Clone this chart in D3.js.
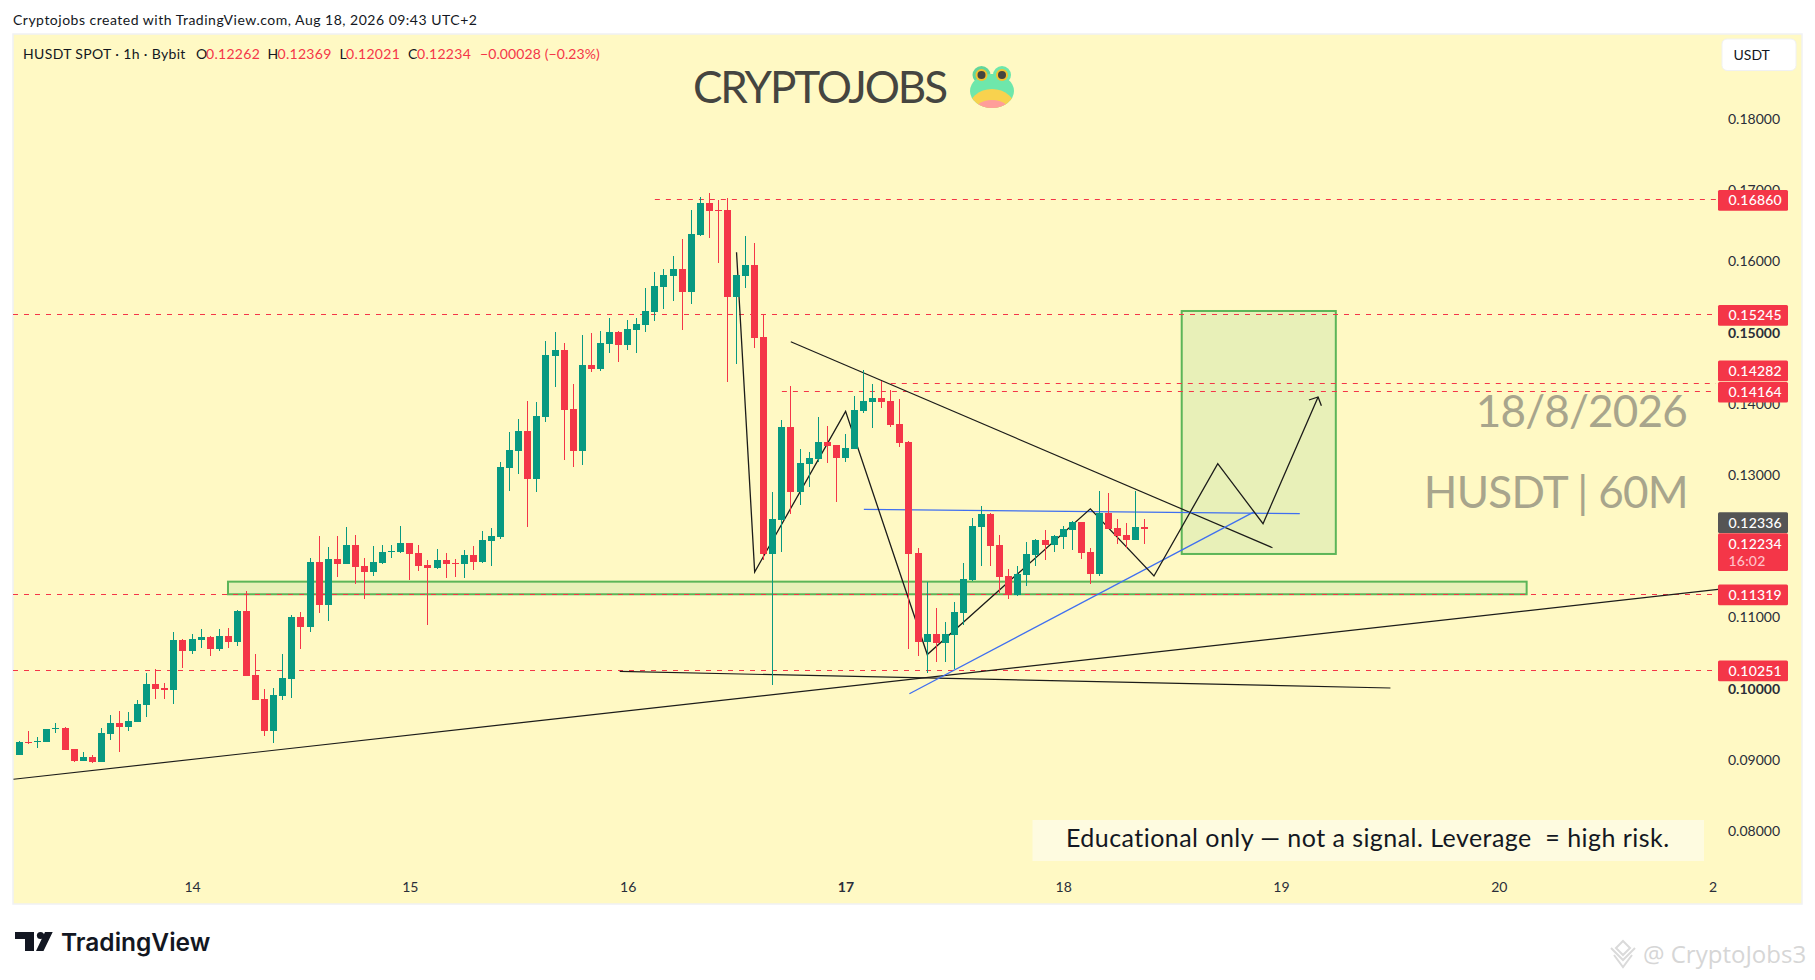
<!DOCTYPE html>
<html>
<head>
<meta charset="utf-8">
<script src="https://cdn.jsdelivr.net/npm/d3@7"></script>
<style>
  body { margin: 0; background: #fff; }
  svg { display: block; }
  text { font-family: Lato, "Noto Sans", sans-serif; }
</style>
</head>
<body>
<svg id="chart" width="1815" height="980"></svg>
<script>
// candles, 1h bars
const opens = [.09059,.09242,.09246,.09242,.09424,.09438,.09143,.08975,.09031,.08961,
.09354,.09508,.09452,.09522,.09761,.10056,.10000,.09972,.10674,.10519,
.10674,.10716,.10548,.10730,.10646,.11081,.10182,.09845,.09396,.09888,
.10126,.10997,.10857,.11769,.11165,.11811,.11741,.12008,.11713,.11629,
.11755,.11910,.11910,.12036,.11896,.11727,.11685,.11798,.11755,.11741,
.11868,.11770,.12064,.12121,.13090,.13328,.13609,.12935,.13806,.14662,
.14747,.13918,.13328,.14536,.14480,.14831,.14999,.14817,.15028,.15098,
.15280,.15631,.15786,.15884,.15561,.16362,.16811,.16713,.16713,.15491,
.15786,.15940,.14929,.11882,.12361,.13667,.12753,.13144,.13217,.13454,
.13415,.13231,.13357,.13889,.14015,.14073,.14029,.13705,.13459,.11892,
.10644,.10760,.10634,.10750,.11055,.11515,.12259,.12443,.12008,.11573,
.11311,.11587,.11868,.12080,.12008,.12124,.12221,.12332,.11911,.11602,
.12458,.12250,.12148,.12080,.12262];
const highs = [.09256,.09396,.09312,.09424,.09508,.09452,.09143,.09101,.09059,.09438,
.09621,.09677,.09663,.09831,.10211,.10267,.10070,.10786,.10688,.10758,
.10828,.10730,.10828,.10842,.11095,.11362,.10477,.09986,.10000,.10477,
.11025,.11067,.11825,.12134,.11980,.12134,.12261,.12148,.11825,.11994,
.12008,.12008,.12275,.12036,.12008,.11798,.11952,.11896,.11812,.11938,
.11994,.12205,.12247,.13174,.13595,.13778,.14030,.14016,.14873,.14999,
.14845,.14269,.14957,.14985,.15013,.15196,.15013,.15168,.15196,.15617,
.15842,.15884,.16067,.16305,.16713,.16895,.16951,.16853,.16881,.15800,
.16348,.16249,.15238,.12753,.13763,.14242,.13357,.13314,.13807,.13681,
.13415,.13565,.14102,.14464,.14271,.14305,.14184,.14058,.13473,.11964,
.11490,.11123,.10929,.11210,.11756,.12390,.12554,.12458,.12153,.11669,
.11718,.12056,.12095,.12225,.12153,.12274,.12346,.12332,.11964,.12767,
.12738,.12371,.12317,.12767,.12369];
const lows = [.09059,.09214,.09157,.09242,.09373,.09129,.08961,.08975,.08947,.08961,
.09270,.09101,.09396,.09522,.09593,.09845,.09845,.09775,.10281,.10477,
.10562,.10449,.10519,.10562,.10590,.10168,.09831,.09326,.09227,.09831,
.09859,.10548,.10786,.11053,.10941,.11559,.11741,.11460,.11250,.11573,
.11741,.11825,.11896,.11517,.11643,.10885,.11671,.11545,.11559,.11545,
.11657,.11755,.11713,.12093,.12767,.13005,.12261,.12753,.13736,.14227,
.13202,.13104,.13132,.14438,.14452,.14705,.14578,.14747,.14705,.14999,
.15154,.15322,.15435,.15028,.15393,.16348,.16319,.15968,.14297,.14550,
.15617,.14775,.11798,.10044,.11911,.12443,.12564,.12825,.13173,.13159,
.12608,.13168,.13357,.13855,.13652,.13933,.13667,.13386,.10547,.10451,
.10209,.10364,.10364,.10267,.10886,.11500,.11708,.11708,.11331,.11249,
.11292,.11428,.11718,.11795,.11911,.11950,.11940,.11810,.11461,.11573,
.12235,.12022,.11959,.12080,.12021];
const closes = [.09242,.09228,.09260,.09424,.09438,.09129,.08975,.09031,.08961,.09368,
.09508,.09452,.09536,.09775,.10056,.09986,.09972,.10674,.10519,.10688,
.10716,.10548,.10730,.10646,.11081,.10168,.09831,.09396,.09902,.10140,
.10997,.10857,.11769,.11165,.11811,.11741,.12008,.11699,.11629,.11769,
.11910,.11924,.12036,.11882,.11713,.11685,.11798,.11741,.11741,.11868,
.11770,.12079,.12135,.13104,.13342,.13609,.12935,.13820,.14676,.14747,
.13904,.13328,.14536,.14480,.14845,.14999,.14817,.15042,.15112,.15294,
.15645,.15800,.15884,.15561,.16376,.16811,.16699,.16699,.15491,.15800,
.15940,.14915,.11882,.12375,.13667,.12753,.13159,.13231,.13454,.13401,
.13231,.13372,.13904,.14029,.14073,.14015,.13696,.13439,.11882,.10644,
.10760,.10634,.10760,.11070,.11529,.12274,.12443,.11993,.11558,.11311,
.11602,.11882,.12080,.12008,.12138,.12235,.12332,.11897,.11602,.12458,
.12235,.12134,.12080,.12259,.12234];

// axes
const priceTicks = [.08,.09,.10,.11,.13,.14,.15,.16,.17,.18];
const boldTicks = [.10,.15];
const dayBars = [19,43,67,91,115,139,163,187];
const dayLabels = ["14","15","16","17","18","19","20","2"];

// horizontal levels, dashed, first bar is where the line starts
const levelPrices = [.16860,.15245,.14282,.14164,.11319,.10251];
const levelStartBars = [70,-1,96,84,-1,-1];
const levelWidths = [1.2,1.2,1.2,1,1.2,1.2];
const levelLabelShift = [0,0,-13,0,0,0];

// drawings as [bar, price] anchors
const zigzagBars = [79,81,91.02,100.02,117.99,125,132.03,137.02,143.09];
const zigzagPrices = [.16119,.11629,.13884,.10470,.12515,.11573,.13150,.12307,.14087];
const arrowBars = [142.08,143.09,143.45];
const arrowPrices = [.14044,.14087,.13964];
const trendBars = [[-0.68,187.3],[66.13,151.06],[84.98,138.06]];
const trendPrices = [[.08718,.11386],[.10233,.10000],[.14862,.11970]];
const blueBars = [[93.03,141.07],[98.05,136.03]];
const bluePrices = [[.12507,.12448],[.09919,.12472]];
const boxBars = [[128.06,145.04],[22.96,166.07]];
const boxPrices = [[.15294,.11882],[.11493,.11316]];

const svg = d3.select("#chart");
const paneLeft = 13, paneRight = 1718, paneTop = 34, paneBottom = 904, frameRight = 1802;
const green = "#089981", red = "#F43648";

const x = d3.scaleLinear().domain([0,124]).range([19.64,1144.88]);
const y = d3.scaleLinear().domain([.08,.18]).range([830.4,118.3]);

// background and frame
svg.append("rect").attr("x",paneLeft).attr("y",paneTop)
  .attr("width",frameRight-paneLeft).attr("height",paneBottom-paneTop)
  .attr("fill","#FFF9C4").attr("stroke","#F0F1F3").attr("stroke-width",1.5);

svg.append("clipPath").attr("id","pane").append("rect")
  .attr("x",paneLeft).attr("y",paneTop).attr("width",paneRight-paneLeft).attr("height",paneBottom-paneTop);
const pane = svg.append("g").attr("clip-path","url(#pane)");

// green zones
boxBars.forEach((b,i) => {
  pane.append("rect")
    .attr("x",x(b[0])).attr("y",y(boxPrices[i][0]))
    .attr("width",x(b[1])-x(b[0])).attr("height",y(boxPrices[i][1])-y(boxPrices[i][0]))
    .attr("fill","#E8F0B8").attr("stroke","#5CB558").attr("stroke-width",2);
});

// dashed levels
levelPrices.forEach((p,i) => {
  pane.append("line")
    .attr("x1",levelStartBars[i] < 0 ? paneLeft : x(levelStartBars[i]))
    .attr("x2",paneRight-2)
    .attr("y1",Math.round(y(p))+.5).attr("y2",Math.round(y(p))+.5)
    .attr("stroke",red).attr("stroke-width",levelWidths[i])
    .attr("stroke-dasharray","5,6");
});

// trend lines and the zigzag
const line = d3.line().x(d => x(d[0])).y(d => y(d[1]));
trendBars.forEach((b,i) => {
  pane.append("path").attr("d",line(d3.zip(b,trendPrices[i])))
    .attr("fill","none").attr("stroke","#1c1c1a").attr("stroke-width",1.2);
});
blueBars.forEach((b,i) => {
  pane.append("path").attr("d",line(d3.zip(b,bluePrices[i])))
    .attr("fill","none").attr("stroke","#3f6ff0").attr("stroke-width",1.3);
});
pane.append("path").attr("d",line(d3.zip(zigzagBars,zigzagPrices)))
  .attr("fill","none").attr("stroke","#1c1c1a").attr("stroke-width",1.3).attr("stroke-linejoin","miter");
pane.append("path").attr("d",line(d3.zip(arrowBars,arrowPrices)))
  .attr("fill","none").attr("stroke","#1c1c1a").attr("stroke-width",1.3);

// candles
const bars = d3.range(opens.length);
const barX = i => Math.floor(x(i))+.5;
const barColor = i => closes[i] >= opens[i] ? green : red;
pane.selectAll("line.wick").data(bars).enter().append("line")
  .attr("class","wick")
  .attr("x1",barX).attr("x2",barX)
  .attr("y1",i => Math.round(y(highs[i]))).attr("y2",i => Math.round(y(lows[i])))
  .attr("stroke",barColor).attr("stroke-width",1);
pane.selectAll("rect.body").data(bars).enter().append("rect")
  .attr("class","body")
  .attr("x",i => barX(i)-3.5).attr("width",7)
  .attr("y",i => Math.round(y(Math.max(opens[i],closes[i]))))
  .attr("height",i => Math.max(1,Math.round(y(Math.min(opens[i],closes[i])))-Math.round(y(Math.max(opens[i],closes[i])))))
  .attr("fill",barColor);

// price axis
const priceAxis = svg.append("g").attr("transform",`translate(1728,.6)`)
  .call(d3.axisRight(y).tickValues(priceTicks).tickSize(0).tickPadding(0).tickFormat(d3.format(".5f")));
priceAxis.select(".domain").remove();
priceAxis.selectAll("text")
  .attr("fill","#2a2e39").attr("font-size",14).style("font-family","Lato")
  .attr("font-weight",d => boldTicks.includes(d) ? 700 : 400);

// time axis
const timeAxis = svg.append("g").attr("transform","translate(0,882)")
  .call(d3.axisBottom(x).tickValues(dayBars).tickSize(0).tickPadding(0)
    .tickFormat(d => dayLabels[dayBars.indexOf(d)]));
timeAxis.select(".domain").remove();
timeAxis.selectAll("text")
  .attr("fill","#2a2e39").attr("font-size",14).style("font-family","Lato")
  .attr("font-weight",d => d === 91 ? 700 : 400)
  .attr("dx",d => d === 187 ? -4 : 0);

// price labels on the scale
function priceTag(cy, h, fill) {
  svg.append("rect").attr("x",1718).attr("y",cy-h/2).attr("width",70).attr("height",h)
    .attr("rx",1.5).attr("fill",fill);
}
function tagText(cy, txt, fill) {
  svg.append("text").attr("x",1728.5).attr("y",cy).attr("dy",".36em")
    .attr("fill",fill).attr("font-size",14).attr("font-weight",500)
    .attr("letter-spacing",.2).text(txt);
}
levelPrices.forEach((p,i) => {
  const cy = y(p)+.8+levelLabelShift[i];
  priceTag(cy,20.7,red);
  tagText(cy,d3.format(".5f")(p),"#fff");
});
priceTag(522.7,20.7,"#555555");
tagText(522.7,"0.12336","#fff");
priceTag(552.2,37.7,red);
tagText(544,"0.12234","#fff");
tagText(561,"16:02","#FFC2C8");

// top line and legend
const headerNote = "Cryptojobs created with TradingView.com, Aug 18, 2026 09:43 UTC+2";
svg.append("text").attr("x",13).attr("y",24.5).attr("font-size",14).attr("letter-spacing",.5)
  .attr("fill","#131722").text(headerNote);
const legendParts = [
  [23,"HUSDT SPOT · 1h · Bybit","#131722",.35],
  [196,"O","#131722",0],[206,"0.12262",red,.3],
  [267.5,"H","#131722",0],[277.5,"0.12369",red,.3],
  [339.5,"L","#131722",0],[346,"0.12021",red,.3],
  [408,"C","#131722",0],[417,"0.12234",red,.3],
  [480,"−0.00028 (−0.23%)",red,.1]
];
legendParts.forEach(d => {
  svg.append("text").attr("x",d[0]).attr("y",58.5).attr("font-size",14)
    .attr("letter-spacing",d[3]).attr("fill",d[2]).text(d[1]);
});

// currency button
svg.append("rect").attr("x",1722).attr("y",39).attr("width",74).attr("height",31.5).attr("rx",5)
  .attr("fill","#fff").attr("stroke","#F0F1F3");
svg.append("text").attr("x",1733.5).attr("y",59.5).attr("font-size",14).attr("fill","#131722").text("USDT");

// big texts
svg.append("text").attr("x",693).attr("y",102.7).attr("font-size",44).attr("letter-spacing",-2.1)
  .attr("fill","#454540").text("CRYPTOJOBS");
svg.append("text").attr("x",1687).attr("y",426.7).attr("text-anchor","end").attr("font-size",44)
  .attr("letter-spacing",-.8).attr("fill","#A8A58C").text("18/8/2026");
svg.append("text").attr("x",1688).attr("y",508.3).attr("text-anchor","end").attr("font-size",44)
  .attr("letter-spacing",-.7).attr("fill","#A8A58C").text("HUSDT | 60M");

// educational note
svg.append("rect").attr("x",1032.5).attr("y",820).attr("width",671.5).attr("height",41).attr("fill","#FEFBE0");
svg.append("text").attr("x",1066).attr("y",846.5).attr("font-size",25).attr("letter-spacing",.45)
  .attr("fill","#131722")
  .text("Educational only — not a signal. Leverage  = high risk.").style("white-space","pre");

// frog
const frog = svg.append("g");
const frogClip = svg.append("clipPath").attr("id","frogBody");
frogClip.append("ellipse").attr("cx",992).attr("cy",91).attr("rx",22).attr("ry",17);
frog.append("circle").attr("cx",981.5).attr("cy",75).attr("r",9).attr("fill","#62D69B");
frog.append("circle").attr("cx",1002).attr("cy",75).attr("r",9).attr("fill","#6EE7AB");
frog.append("ellipse").attr("cx",992).attr("cy",91).attr("rx",22).attr("ry",17).attr("fill","#6EE7AB");
const belly = frog.append("g").attr("clip-path","url(#frogBody)");
belly.append("ellipse").attr("cx",992).attr("cy",110).attr("rx",24).attr("ry",21).attr("fill","#F8D24E");
belly.append("ellipse").attr("cx",992).attr("cy",117).attr("rx",21).attr("ry",17).attr("fill","#FF9E9A");
[981.5,1002].forEach(cx => {
  frog.append("circle").attr("cx",cx).attr("cy",75).attr("r",6).attr("fill","#F2C230");
  frog.append("circle").attr("cx",cx).attr("cy",75).attr("r",4).attr("fill","#45453F");
});

// logo
svg.append("path").attr("fill","#131722")
  .attr("d","M15 932H34V951H25V939H15Z M36 951L45 932H52.7L43.5 951Z");
svg.append("circle").attr("cx",40.5).attr("cy",935.5).attr("r",3.6).attr("fill","#131722");
svg.append("text").attr("x",61).attr("y",951).attr("font-size",24.5).attr("font-weight",600)
  .style("font-family","Inter").attr("fill","#131722").text("TradingView");

// watermark
const wm = svg.append("g").attr("fill","none").attr("stroke","#DADADA").attr("stroke-width",2);
wm.append("path").attr("d","M1623 941L1630 948L1623 955L1616 948Z");
wm.append("path").attr("d","M1611 948L1623 960L1635 948 M1614 955L1623 967L1632 955");
svg.append("text").attr("x",1643).attr("y",963).attr("font-size",24).style("font-family","'Open Sans'")
  .attr("fill","#D6D6D6").text("@ CryptoJobs3");
</script>
</body>
</html>
